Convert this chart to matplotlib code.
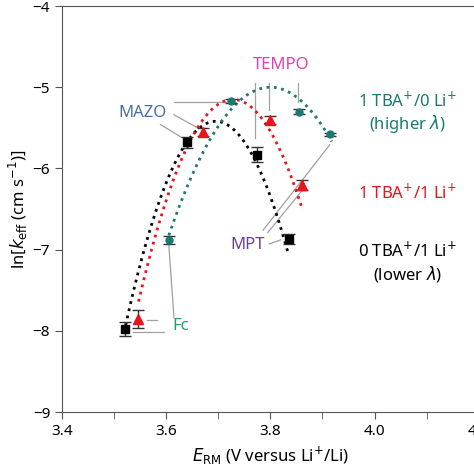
import numpy as np
import matplotlib.pyplot as plt

plt.rcParams['font.family'] = ['Noto Sans', 'DejaVu Sans']

# 0 TBA+/1 Li+ (black), 1 TBA+/1 Li+ (red), 1 TBA+/0 Li+ (teal)
e_black = [3.52, 3.64, 3.775, 3.835]
k_black = [-7.98, -5.68, -5.83, -6.87]
err_black = [0.09, 0.07, 0.09, 0.06]
e_red = [3.545, 3.67, 3.80, 3.86]
k_red = [-7.85, -5.55, -5.40, -6.20]
err_red = [0.11, 0.05, 0.05, 0.06]
e_teal = [3.605, 3.725, 3.855, 3.915]
k_teal = [-6.88, -5.17, -5.30, -5.58]
err_teal = [0.05, 0.03, 0.03, 0.02]

# Marcus parabola parameters: (peak E, peak ln k, curvature, E range)
par_black = (3.695, -5.42, 84, 3.522, 3.835)
par_red = (3.728, -5.15, 76, 3.547, 3.862)
par_teal = (3.80, -5.0, 48, 3.605, 3.918)

fig = plt.figure(figsize=(4.74, 4.74), dpi=100)
ax = fig.add_axes([62/474, 1-412/474, 1.01-62/474, 406/474])

grey = '#a0a0a0'
series = [(e_black, k_black, err_black, 'black', 's', 5.5, par_black),
          (e_red, k_red, err_red, '#e8141c', '^', 7, par_red),
          (e_teal, k_teal, err_teal, '#1a7a70', 'o', 5, par_teal)]
for e, k, err, c, m, ms, par in series:
    x0, kmax, a, lo, hi = par
    xs = np.linspace(lo, hi, 200)
    ax.plot(xs, kmax - a * (xs - x0) ** 2, ':', color=c, lw=2)
    ax.errorbar(e, k, yerr=err, fmt=m, color=c, ms=ms, ecolor='#333333',
                elinewidth=1, capsize=4, zorder=5)

# leader lines
segs = [((3.589, 3.63), (-5.46, -5.62)), ((3.615, 3.66), (-5.34, -5.50)),
        ((3.615, 3.715), (-5.18, -5.18)),
        ((3.771, 3.771), (-4.95, -5.62)), ((3.798, 3.798), (-4.95, -5.28)),
        ((3.854, 3.854), (-4.95, -5.18)),
        ((3.786, 3.914), (-6.76, -5.71)), ((3.795, 3.86), (-6.79, -6.28)),
        ((3.798, 3.82), (-6.93, -6.88)),
        ((3.605, 3.615), (-6.94, -7.84)), ((3.564, 3.583), (-7.87, -7.87)),
        ((3.537, 3.595), (-8.02, -8.02))]
for xx, yy in segs:
    ax.plot(xx, yy, color=grey, lw=0.9, zorder=1)

ax.text(3.555, -5.32, 'MAZO', color='#4a6fa5', fontsize=12, ha='center', va='center')
ax.text(3.82, -4.73, 'TEMPO', color='#e040b0', fontsize=12, ha='center', va='center')
ax.text(3.757, -6.94, 'MPT', color='#6a3d9a', fontsize=12, ha='center', va='center')
ax.text(3.628, -7.94, 'Fc', color='#2a9a6a', fontsize=12, ha='center', va='center')
ax.text(4.063, -5.32, '1 TBA$^{+}$/0 Li$^{+}$\n(higher $\\lambda$)', color='#1a7a70',
        fontsize=12, ha='center', va='center', linespacing=1.2)
ax.text(4.063, -6.30, '1 TBA$^{+}$/1 Li$^{+}$', color='#e8141c', fontsize=12,
        ha='center', va='center')
ax.text(4.063, -7.16, '0 TBA$^{+}$/1 Li$^{+}$\n(lower $\\lambda$)', color='black',
        fontsize=12, ha='center', va='center', linespacing=1.2)

ax.set_xlim(3.4, 4.2)
ax.set_ylim(-9, -4)
ax.set_xticks([3.4, 3.6, 3.8, 4.0, 4.2])
ax.set_xticklabels(['3.4', '3.6', '3.8', '4.0', '4.2'])
ax.set_xticks(np.arange(3.5, 4.2, 0.2), minor=True)
ax.set_yticks([-9, -8, -7, -6, -5, -4])
ax.set_yticklabels(['\u22129', '\u22128', '\u22127', '\u22126', '\u22125', '\u22124'])
ax.tick_params(labelsize=11, color='#555555', direction='out', length=5)
ax.tick_params(which='minor', length=5, color='#555555')
for s in ['left', 'bottom', 'top']:
    ax.spines[s].set_color('#555555')
ax.spines['right'].set_visible(False)
ax.set_xlabel('$E_{\\rm RM}$ (V versus Li$^{+}$/Li)', fontsize=12)
ax.set_ylabel('ln[$k_{\\rm eff}$ (cm s$^{-1}$)]', fontsize=12, labelpad=2)

fig.savefig('out.png', dpi=100)
